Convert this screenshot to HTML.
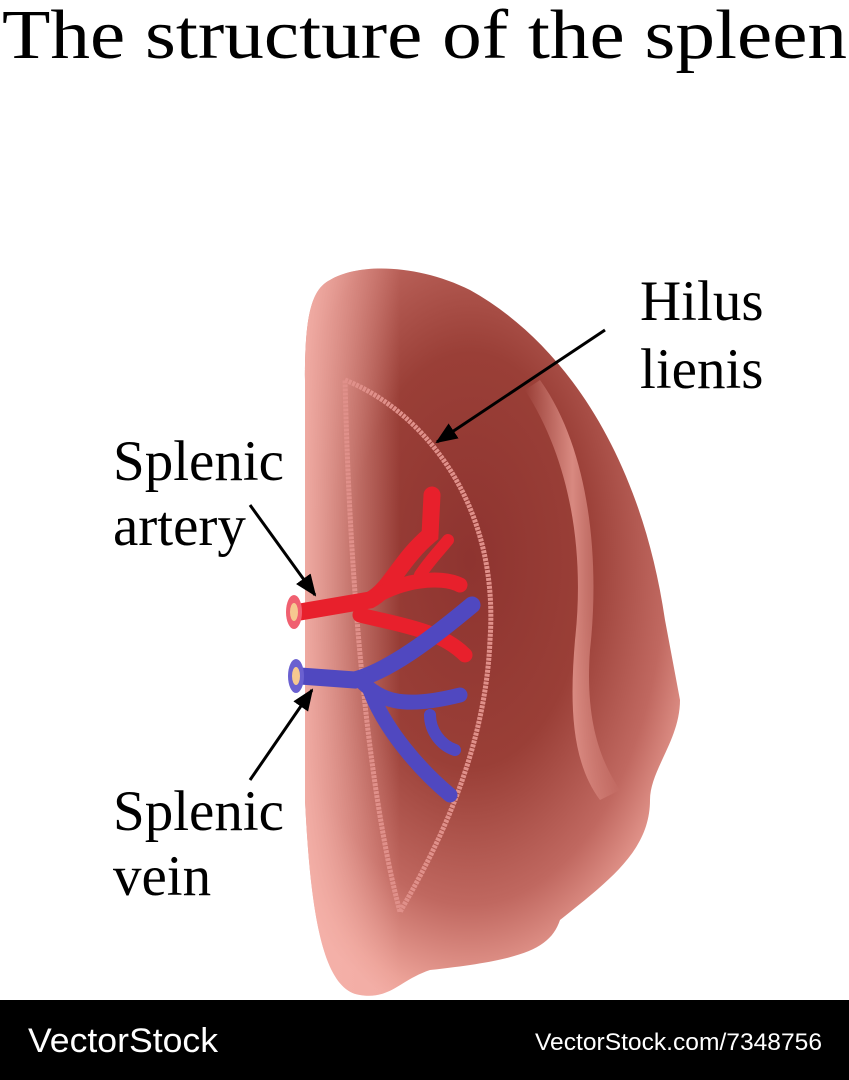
<!DOCTYPE html>
<html><head><meta charset="utf-8"><style>
html,body{margin:0;padding:0;background:#fff;}
svg{display:block}
</style></head><body>
<svg width="849" height="1080" viewBox="0 0 849 1080" xmlns="http://www.w3.org/2000/svg">
<defs>
<radialGradient id="g" cx="0" cy="0" r="1" gradientUnits="userSpaceOnUse" gradientTransform="translate(470 560) scale(260 460)">
<stop offset="0" stop-color="#8e3430"/>
<stop offset="0.45" stop-color="#9a3f37"/>
<stop offset="0.75" stop-color="#c06860"/>
<stop offset="0.95" stop-color="#eca298"/>
<stop offset="1" stop-color="#f2aca4"/>
</radialGradient>
<linearGradient id="ridge" x1="0" y1="0" x2="1" y2="0">
<stop offset="0" stop-color="#f3a9a0" stop-opacity="0"/>
<stop offset="0.5" stop-color="#f3a9a0" stop-opacity="0.7"/>
<stop offset="1" stop-color="#f3a9a0" stop-opacity="0"/>
</linearGradient>
<linearGradient id="lft" x1="305" y1="0" x2="400" y2="0" gradientUnits="userSpaceOnUse">
<stop offset="0" stop-color="#f5b2aa" stop-opacity="0.9"/>
<stop offset="1" stop-color="#f5b2aa" stop-opacity="0"/>
</linearGradient>
<marker id="ar" markerWidth="22" markerHeight="18" refX="20" refY="9" orient="auto" markerUnits="userSpaceOnUse" viewBox="0 0 22 18">
<path d="M0,0 L22,9 L0,18 Z" fill="#000"/>
</marker>
</defs>
<rect width="849" height="1080" fill="#fff"/>
<text x="2" y="58" font-family="Liberation Serif, serif" font-size="70" textLength="845" lengthAdjust="spacingAndGlyphs">The structure of the spleen</text>

<path id="sp" d="M330 280 C360 262 420 265 470 290 C560 340 640 450 665 620 L680 700 C680 740 650 770 650 800 C650 850 610 880 560 920 C550 950 520 960 430 970 C400 980 390 1000 360 995 C320 990 310 900 305 800 L305 380 C305 320 310 290 330 280 Z" fill="url(#g)"/>
<path d="M330 280 C360 262 420 265 470 290 C560 340 640 450 665 620 L680 700 C680 740 650 770 650 800 C650 850 610 880 560 920 C550 950 520 960 430 970 C400 980 390 1000 360 995 C320 990 310 900 305 800 L305 380 C305 320 310 290 330 280 Z" fill="url(#lft)"/>
<path d="M540 380 C590 450 600 560 590 650 C585 720 600 760 620 790 L600 800 C570 760 570 700 575 640 C585 550 570 460 525 390 Z" fill="url(#ridge)"/>

<path d="M345 380 C420 410 500 500 490 640 C485 760 430 860 400 912 C370 800 350 600 345 380 Z" fill="none" stroke="#e0908a" stroke-width="5" stroke-dasharray="3 1"/>

<g fill="none" stroke-linecap="round">
<path d="M300 612 L370 600 C390 590 400 560 430 535 L432 495" stroke="#e8202c" stroke-width="17"/>
<path d="M370 600 C400 580 440 575 460 585" stroke="#e8202c" stroke-width="15"/>
<path d="M420 575 C430 560 440 550 448 540" stroke="#e8202c" stroke-width="12"/>
<path d="M360 615 C400 625 440 630 465 655" stroke="#e8202c" stroke-width="15"/>
<path d="M300 676 L355 680 C390 670 430 640 472 605" stroke="#5048c0" stroke-width="17"/>
<path d="M360 680 C380 700 400 710 460 695" stroke="#5048c0" stroke-width="15"/>
<path d="M370 690 C385 730 420 770 450 795" stroke="#5048c0" stroke-width="15"/>
<path d="M430 715 C430 730 440 745 455 750" stroke="#5048c0" stroke-width="12"/>
</g>
<ellipse cx="294" cy="612" rx="8" ry="17" fill="#f06070"/>
<ellipse cx="294" cy="612" rx="4" ry="9" fill="#f6c890"/>
<ellipse cx="296" cy="676" rx="8" ry="17" fill="#6a60d0"/>
<ellipse cx="296" cy="676" rx="4" ry="9" fill="#f6c890"/>

<g stroke="#000" stroke-width="3" marker-end="url(#ar)">
<line x1="605" y1="330" x2="437" y2="442"/>
<line x1="250" y1="505" x2="315" y2="595"/>
<line x1="250" y1="780" x2="312" y2="690"/>
</g>

<g font-family="Liberation Serif, serif" font-size="57" fill="#000">
<text x="640" y="320">Hilus</text>
<text x="640" y="388">lienis</text>
<text x="113" y="480">Splenic</text>
<text x="113" y="545">artery</text>
<text x="113" y="830">Splenic</text>
<text x="113" y="895">vein</text>
</g>

<rect x="0" y="1000" width="849" height="80" fill="#000"/>
<text x="28" y="1052" font-family="Liberation Sans, sans-serif" font-size="34" fill="#fff" textLength="190" lengthAdjust="spacingAndGlyphs">VectorStock</text>
<text x="535" y="1050" font-family="Liberation Sans, sans-serif" font-size="24" fill="#fff" textLength="287" lengthAdjust="spacingAndGlyphs">VectorStock.com/7348756</text>
</svg>
</body></html>
